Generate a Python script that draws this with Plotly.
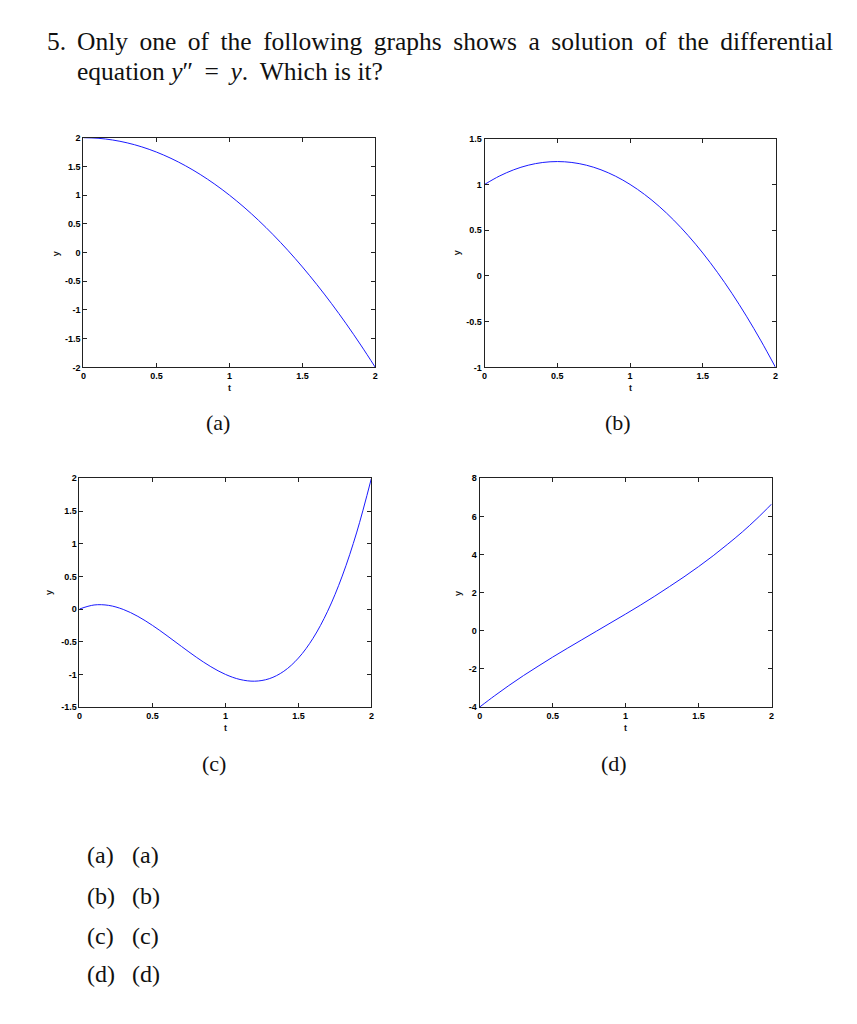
import plotly.graph_objects as go

W, H = 857, 1024

# ---- data ----
t_vals = [0.0, 0.1, 0.2, 0.3, 0.4, 0.5, 0.6, 0.7, 0.8, 0.9, 1.0,
          1.1, 1.2, 1.3, 1.4, 1.5, 1.6, 1.7, 1.8, 1.9, 2.0]
y_a = [2.0, 1.99, 1.96, 1.91, 1.84, 1.75, 1.64, 1.51, 1.36, 1.19, 1.0,
       0.79, 0.56, 0.31, 0.04, -0.25, -0.56, -0.89, -1.24, -1.61, -2.0]
y_b = [1.0, 1.09, 1.16, 1.21, 1.24, 1.25, 1.24, 1.21, 1.16, 1.09, 1.0,
       0.89, 0.76, 0.61, 0.44, 0.25, 0.04, -0.19, -0.44, -0.71, -1.0]
y_c = [0.0, 0.062, 0.056, -0.006, -0.112, -0.25, -0.408, -0.574, -0.736, -0.882, -1.0,
       -1.078, -1.104, -1.066, -0.952, -0.75, -0.448, -0.034, 0.504, 1.178, 2.0]
y_d = [-4.0, -3.42, -2.87, -2.35, -1.86, -1.38, -0.92, -0.47, -0.02, 0.43, 0.88,
       1.34, 1.82, 2.32, 2.83, 3.37, 3.94, 4.55, 5.19, 5.89, 6.65]

x_ticks = [0, 0.5, 1, 1.5, 2]
x_ticktext = ["0", "0.5", "1", "1.5", "2"]
ya_ticks = [-2, -1.5, -1, -0.5, 0, 0.5, 1, 1.5, 2]
ya_text = ["-2", "-1.5", "-1", "-0.5", "0", "0.5", "1", "1.5", "2"]
yb_ticks = [-1, -0.5, 0, 0.5, 1, 1.5]
yb_text = ["-1", "-0.5", "0", "0.5", "1", "1.5"]
yc_ticks = [-1.5, -1, -0.5, 0, 0.5, 1, 1.5, 2]
yc_text = ["-1.5", "-1", "-0.5", "0", "0.5", "1", "1.5", "2"]
yd_ticks = [-4, -2, 0, 2, 4, 6, 8]
yd_text = ["-4", "-2", "0", "2", "4", "6", "8"]

panel_labels = ["(a)", "(b)", "(c)", "(d)"]
question_number = "5."
question_words = ["Only", "one", "of", "the", "following", "graphs", "shows", "a",
                  "solution", "of", "the", "differential"]
question_line2 = "equation <i>y</i>\u2033\u2009 = \u2009<i>y</i>. \u2009Which is it?"
answers = ["(a)", "(b)", "(c)", "(d)"]

# ---- layout helpers (pixel -> paper) ----
def px(x):
    return x / W

def py(y):
    return 1 - y / H

panels = [
    dict(box=(81, 375, 134, 366), y=y_a, tv=ya_ticks, tt=ya_text, rng=[-2, 2],
         ylab=(53, 251), tlab=(228, 387), plab=(217, 422)),
    dict(box=(485, 778, 135, 366), y=y_b, tv=yb_ticks, tt=yb_text, rng=[-1, 1.5],
         ylab=(457, 250), tlab=(632, 387), plab=(619, 422)),
    dict(box=(77, 371, 478, 709), y=y_c, tv=yc_ticks, tt=yc_text, rng=[-1.5, 2],
         ylab=(47, 593), tlab=(224, 730), plab=(212, 766)),
    dict(box=(480, 774, 478, 709), y=y_d, tv=yd_ticks, tt=yd_text, rng=[-4, 8],
         ylab=(458, 594), tlab=(627, 730), plab=(615, 766)),
]

fig = go.Figure()
annotations = []
sans = "Liberation Sans, Arial"
serif = "Liberation Serif, DejaVu Serif"
tick_font = dict(family=sans, size=9, color="#000", weight="bold")
layout_axes = {}


def note(x, y, text, size, family=serif, angle=0, xanchor="center", weight="normal"):
    annotations.append(dict(x=px(x), y=py(y), xref="paper", yref="paper",
                            xanchor=xanchor, yanchor="middle", text=text,
                            showarrow=False, textangle=angle,
                            font=dict(family=family, size=size, color="#111", weight=weight)))


for i, p in enumerate(panels, start=1):
    l, r, t, b = p["box"]
    xa = "x" if i == 1 else f"x{i}"
    ya = "y" if i == 1 else f"y{i}"
    fig.add_trace(go.Scatter(x=t_vals, y=p["y"], mode="lines",
                             line=dict(color="#1a1aff", width=1, shape="spline", smoothing=1.0),
                             xaxis=xa, yaxis=ya, showlegend=False, hoverinfo="skip"))
    common = dict(showline=True, linecolor="#222", linewidth=1, mirror="ticks",
                  ticks="inside", ticklen=4, tickcolor="#222", tickwidth=1,
                  showgrid=False, zeroline=False, tickfont=tick_font, fixedrange=True)
    layout_axes["xaxis" if i == 1 else f"xaxis{i}"] = dict(
        domain=[px(l), px(r)], range=[0, 2], anchor=ya,
        tickvals=x_ticks, ticktext=x_ticktext, **common)
    layout_axes["yaxis" if i == 1 else f"yaxis{i}"] = dict(
        domain=[py(b), py(t)], range=p["rng"], anchor=xa,
        tickvals=p["tv"], ticktext=p["tt"], **common)
    note(p["ylab"][0], p["ylab"][1], "y", 9, family=sans, angle=-90, weight="bold")
    note(p["tlab"][0], p["tlab"][1], "t", 9, family=sans, weight="bold")
    note(p["plab"][0], p["plab"][1], panel_labels[i - 1], 22)

# question text (justified first line: words spread between x=77 and x=830)
note(42, 37, question_number, 25.5, xanchor="left")
note(73, 37, (" \u2009").join(question_words), 25.5, xanchor="left")
note(73, 67, question_line2, 25.5, xanchor="left")

rows_y = [858, 900, 940, 979]
for lab, yy in zip(answers, rows_y):
    note(83, yy, lab, 24, xanchor="left")
    note(128, yy, lab, 24, xanchor="left")

fig.update_layout(width=W, height=H, margin=dict(l=0, r=0, t=0, b=0),
                  paper_bgcolor="white", plot_bgcolor="white",
                  annotations=annotations, **layout_axes)

fig.write_html("out.html", config={"displayModeBar": False},
               post_script="document.body.style.margin='0px';")
